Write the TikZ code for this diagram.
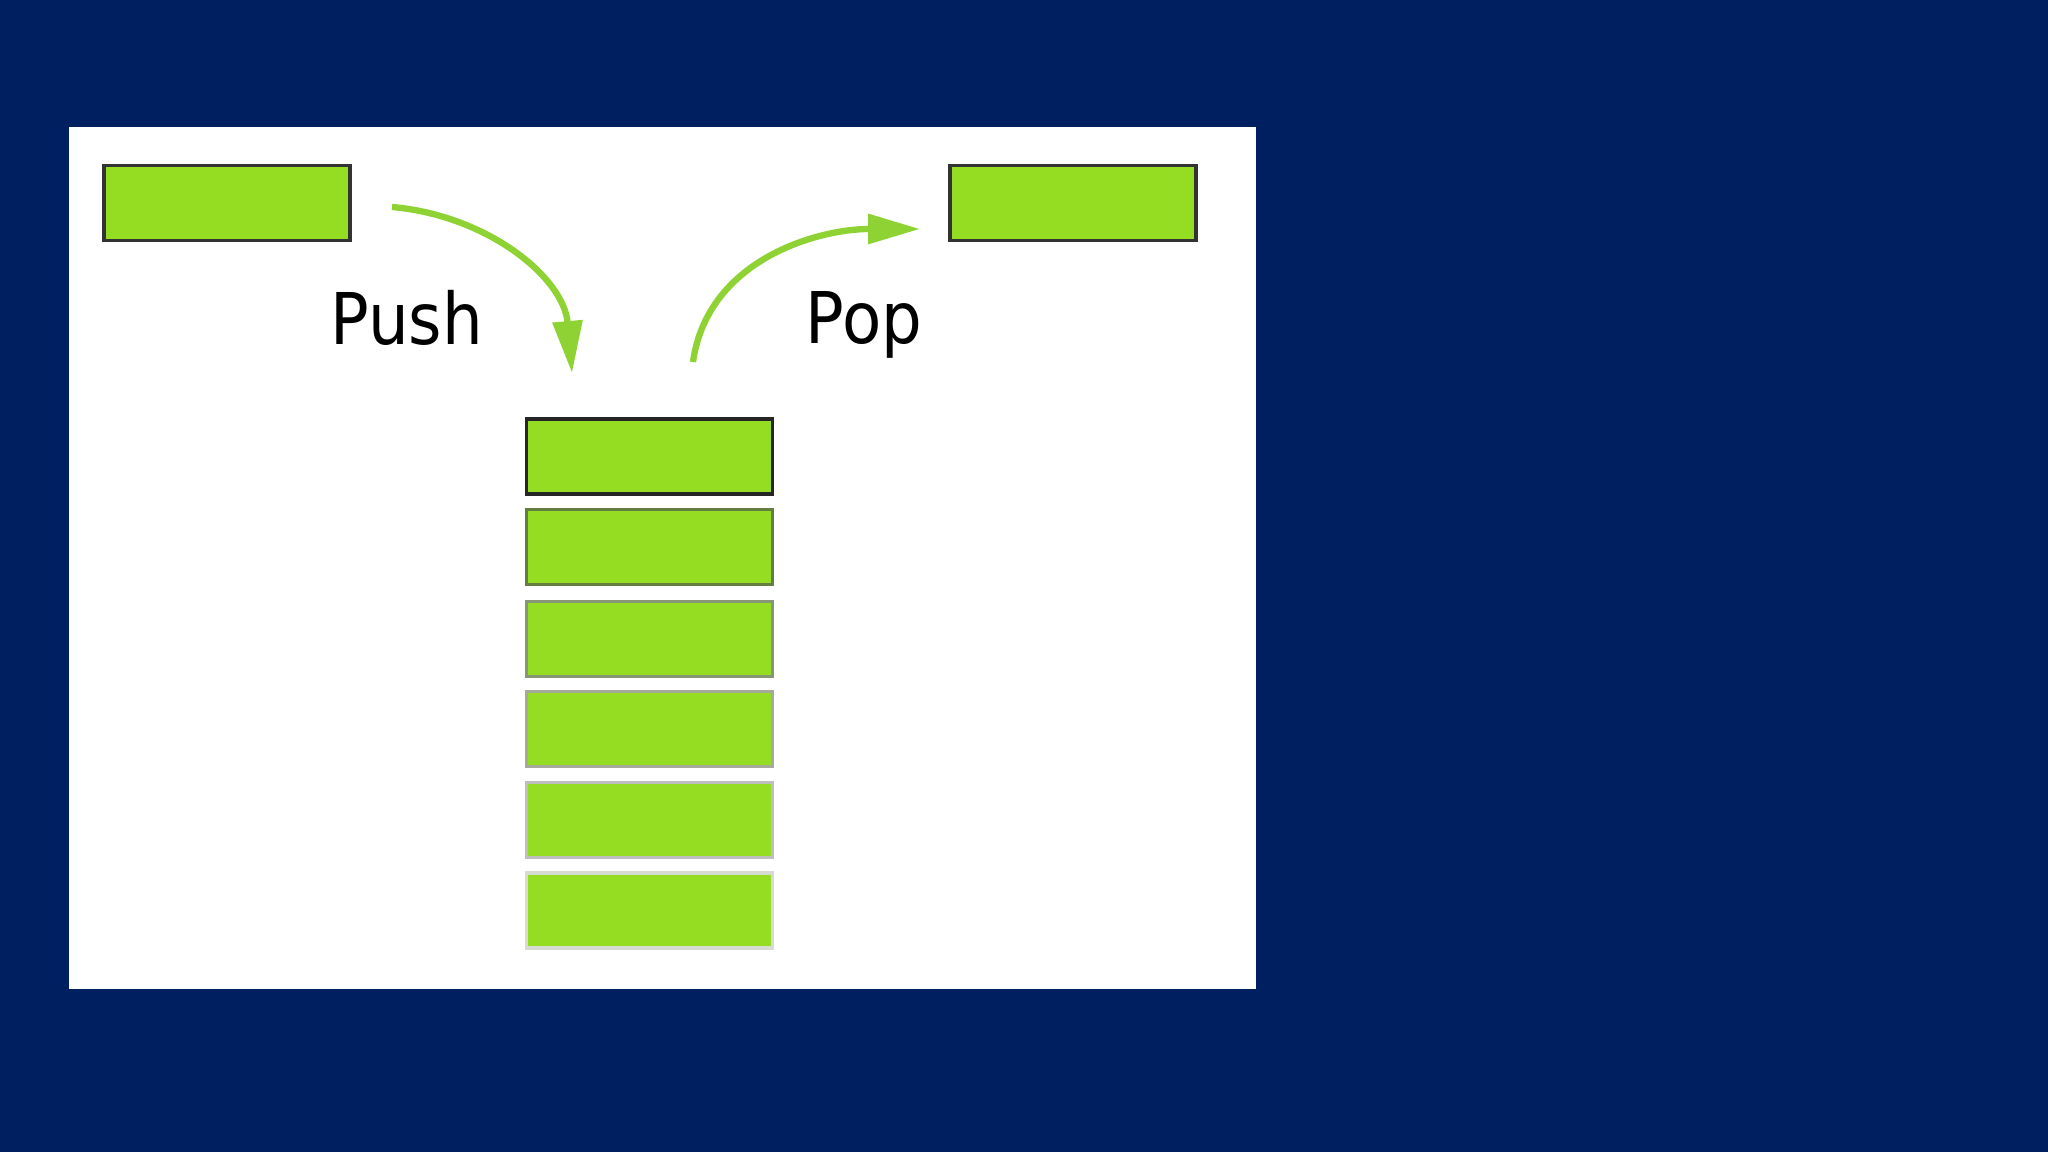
\documentclass[tikz,border=0pt]{standalone}
\usepackage{fontspec}
\usetikzlibrary{arrows.meta}
\newfontfamily\labelfont{DejaVu Sans Condensed}
\definecolor{slidenavy}{RGB}{0,31,96}
\definecolor{boxgreen}{RGB}{148,221,34}
\definecolor{arrowgreen}{RGB}{142,210,52}
\definecolor{rim2}{RGB}{100,125,65}
\definecolor{rim3}{RGB}{135,150,115}
\definecolor{rim4}{RGB}{165,170,155}
\definecolor{rim5}{RGB}{190,192,190}
\definecolor{rim6}{RGB}{215,220,210}

\begin{document}
\begin{tikzpicture}[>={Triangle[length=5.2mm,width=2.9mm]},item/.style={rectangle,fill=boxgreen,draw=#1,line width=1pt,minimum width=2.46cm,minimum height=0.75cm,inner sep=0pt},op label/.style={anchor=base,font=\labelfont\fontsize{20.3}{23}\selectfont}]
  \fill[slidenavy] (0,0) rectangle (20.48,11.52);
  \fill[white] (0.69,1.63) rectangle (12.56,10.25);

  \node[item=black!80] (in) at (2.27,9.49) {};
  \node[item=black!80] (out) at (10.73,9.49) {};
  \node[item=black!85] (s1) at (6.495,6.955) {};
  \node[item=rim2] (s2) at (6.495,6.05) {};
  \node[item=rim3] (s3) at (6.495,5.13) {};
  \node[item=rim4] (s4) at (6.495,4.23) {};
  \node[item=rim5] (s5) at (6.495,3.32) {};
  \node[item=rim6] (s6) at (6.495,2.415) {};

  \node[op label] (push) at (4.07,8.07) {Push};
  \node[op label] (pop) at (8.64,8.08) {Pop};

  \coordinate (push start) at (3.92,9.45);
  \coordinate (push end) at (5.72,7.79);
  \coordinate (pop start) at (6.93,7.90);
  \coordinate (pop end) at (9.20,9.23);

\path[->,color=arrowgreen,line width=1.8pt]
  (push start) edge [out=-5,in=95] (push end)
  (pop start) edge [out=82,in=180] (pop end)
;
\end{tikzpicture}
\end{document}
